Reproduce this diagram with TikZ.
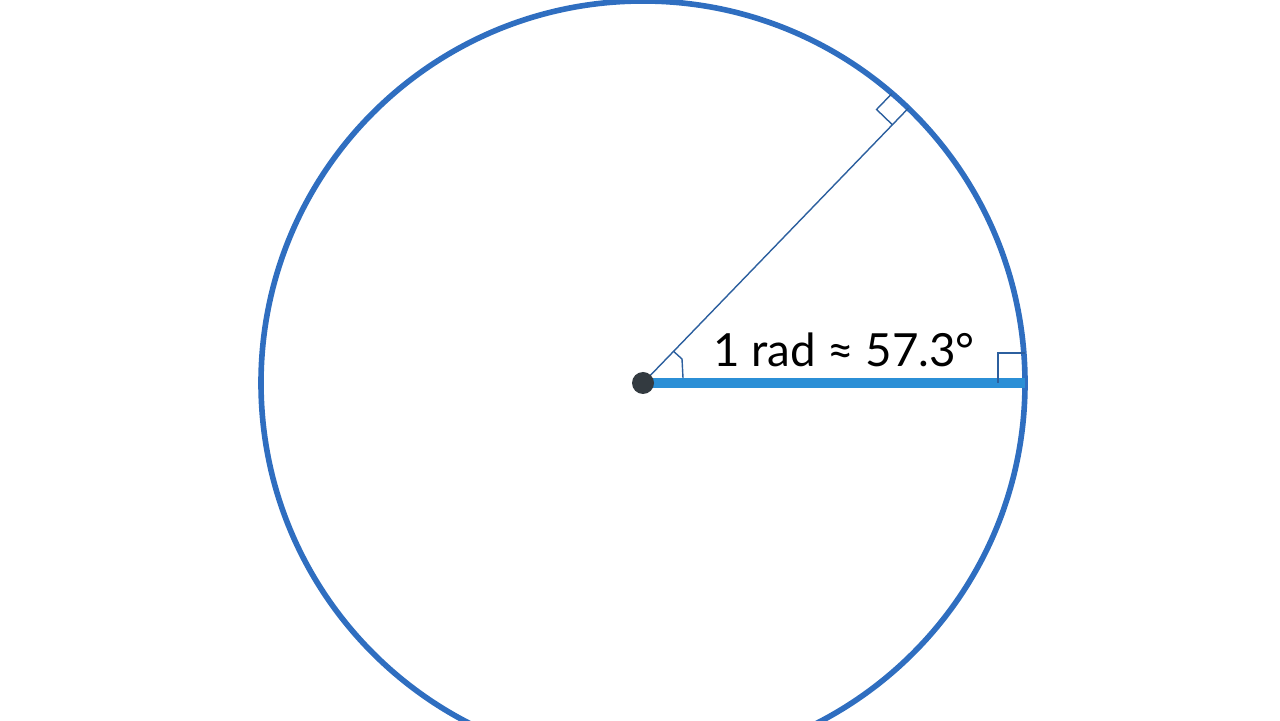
\documentclass[tikz,border=0pt]{standalone}
\usepackage{fontspec}
\setmainfont{Lato}
\usetikzlibrary{calc}

\definecolor{azulcirc}{HTML}{2F6EC0}
\definecolor{azulradio}{HTML}{2B8FD6}
\definecolor{azulfino}{HTML}{2C5F9E}
\definecolor{grisdot}{HTML}{333A40}

\begin{document}
\begin{tikzpicture}[x=0.02cm,y=0.02cm,
	circulo/.style={draw=azulcirc,line width=3.2pt},
	radio/.style={draw=azulradio,line width=6pt},
	fino/.style={draw=azulfino,line width=0.8pt}]
				\useasboundingbox (0,0) rectangle (1280,720);
				\clip (0,0) rectangle (1280,720);
				% Puntos
				\coordinate (O) at (643,337);
				\coordinate (A) at ($(O)+(46:382)$);
				\coordinate (B) at ($(O)+(0:382)$);
				% Circunferencia
				\draw[circulo] (O) circle (382);
				% Radios
				\draw[radio] (O) -- (B);
				\draw[fino] (O) -- (A);
				% Angulos rectos
				\draw[fino] ($(A)+(226:23)$) -- ++(136:22) -- ++(46:22);
				\draw[fino] ($(B)+(-27,0)$) -- ++(0,30) -- ++(27,0);
				\draw[fino] ($(O)+(46:44)$) -- ($(O)+(39,24)$) -- ($(O)+(40,5)$);
				% Centro
				\fill[grisdot] (O) circle (11);

				\node (rad) at (844,370) {\fontsize{26}{30}\selectfont 1 rad ≈ 57.3°};


			\end{tikzpicture}
\end{document}
